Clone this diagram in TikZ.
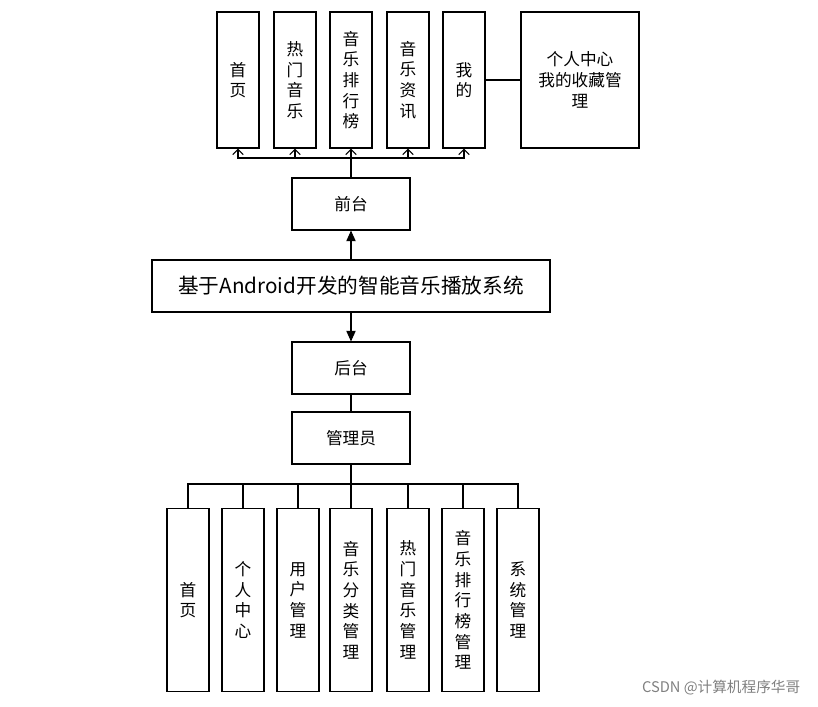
\documentclass[tikz,border=0pt]{standalone}
\usepackage{fontspec}
\setmainfont{Noto Sans CJK SC}
\usetikzlibrary{arrows.meta}
\begin{document}
\begin{tikzpicture}[x=0.75pt,y=-0.75pt,
  bx/.style={draw,line width=0.8pt,inner sep=0pt,font=\fontsize{12.5}{15.5}\selectfont,align=center},
  ln/.style={line width=0.8pt}]
\useasboundingbox (0,0) rectangle (818,707);
\newcommand{\bxat}[6]{\node[bx,minimum width=#3*0.75pt,minimum height=#4*0.75pt] (#5) at (#1,#2) {#6};}
% top
\bxat{238}{80}{42}{136}{t1}{首\\页}
\bxat{295}{80}{42}{136}{t2}{热\\门\\音\\乐}
\bxat{351}{80}{42}{136}{t3}{音\\乐\\排\\行\\榜}
\bxat{408}{80}{42}{136}{t4}{音\\乐\\资\\讯}
\bxat{464}{80}{42}{136}{t5}{我\\的}
\bxat{580}{80}{118}{136}{t6}{个人中心\\我的收藏管\\理}
\node[bx,minimum width=88.5pt,minimum height=39pt] (fr) at (351,204) {前台};
\node[bx,minimum width=298.5pt,minimum height=39pt,font=\fontsize{15.5}{18}\selectfont] (main) at (351,286) {基于Android开发的智能音乐播放系统};
\node[bx,minimum width=88.5pt,minimum height=39pt] (bk) at (351,368) {后台};
\node[bx,minimum width=88.5pt,minimum height=39pt] (ad) at (351,438) {管理员};
\bxat{188}{600}{42}{183}{b1}{首\\页}
\bxat{243}{600}{42}{183}{b2}{个\\人\\中\\心}
\bxat{298}{600}{42}{183}{b3}{用\\户\\管\\理}
\bxat{351}{600}{42}{183}{b4}{音\\乐\\分\\类\\管\\理}
\bxat{408}{600}{42}{183}{b5}{热\\门\\音\\乐\\管\\理}
\bxat{463}{600}{42}{183}{b6}{音\\乐\\排\\行\\榜\\管\\理}
\bxat{518}{600}{42}{183}{b7}{系\\统\\管\\理}
% connectors
\coordinate (ht) at (351,158);
\draw[ln] (fr.north) -- (ht);
\foreach \n in {t1,t2,t3,t4,t5}{
  \draw[ln,-{Straight Barb[length=4pt,width=8pt]}] (ht) -| (\n.south);
}
\draw[ln] (t5.east) -- (t6.west);
\draw[ln,-{Triangle[length=8pt,width=7pt]}] (main.north) -- (fr.south);
\draw[ln,-{Triangle[length=8pt,width=7pt]}] (main.south) -- (bk.north);
\draw[ln] (bk.south) -- (ad.north);
\coordinate (hb) at (351,484);
\draw[ln] (ad.south) -- (hb);
\foreach \n in {b1,b2,b3,b4,b5,b6,b7}{
  \draw[ln] (hb) -| (\n.north);
}
\node[anchor=east,text=gray,font=\fontsize{11}{13}\selectfont] (wm) at (805,688) {CSDN @计算机程序华哥};
\end{tikzpicture}
\end{document}
